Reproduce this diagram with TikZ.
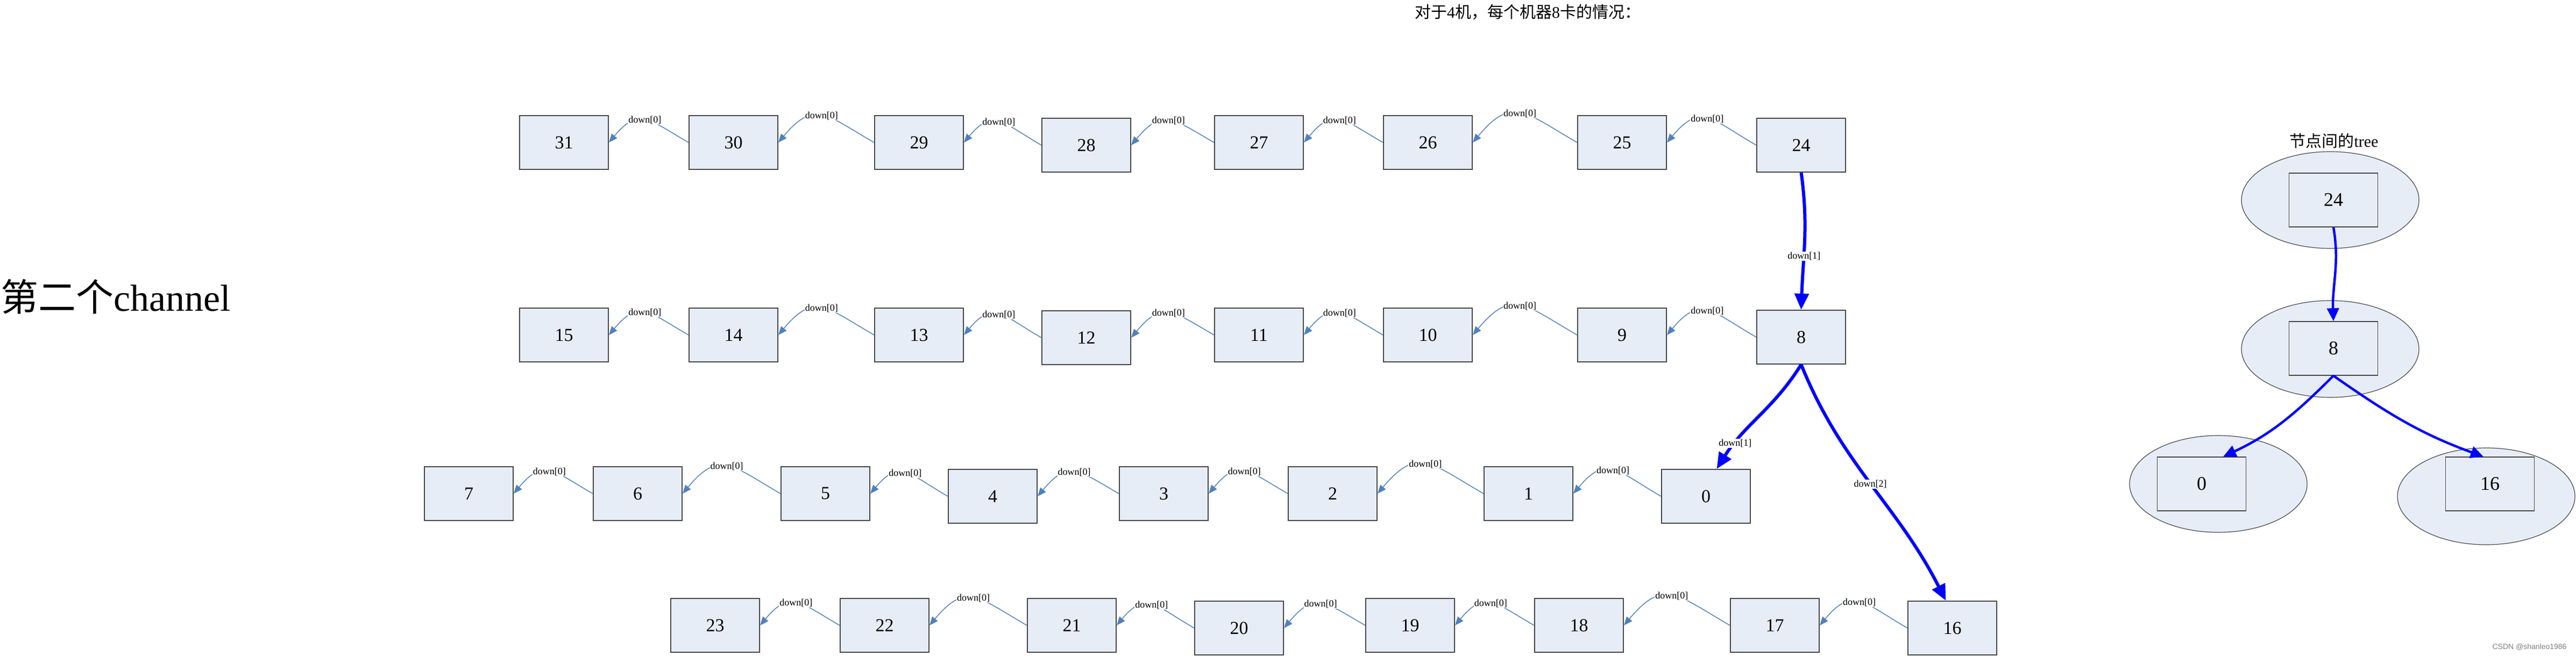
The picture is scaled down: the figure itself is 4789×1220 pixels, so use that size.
\documentclass[tikz,border=0pt]{standalone}
\usepackage{fontspec}
\usetikzlibrary{arrows.meta,shapes.geometric}
\setmainfont{Liberation Serif}
\setsansfont{Liberation Sans}
\newfontfamily\cjk{Noto Sans CJK SC}
\definecolor{boxfill}{RGB}{230,237,247}
\definecolor{thinblue}{RGB}{79,129,189}
\definecolor{edgegray}{RGB}{70,70,70}
\tikzset{
  gpu/.style={draw=edgegray,line width=2pt,fill=boxfill,anchor=north west,minimum width=165pt,minimum height=100pt,inner sep=0pt,font=\fontsize{34}{40}\selectfont},
  tbox/.style={draw=edgegray,line width=1.5pt,fill=boxfill,minimum width=165pt,minimum height=100pt,inner sep=0pt,font=\fontsize{36}{40}\selectfont},
  ell/.style={draw=edgegray,line width=1.2pt,fill=boxfill,ellipse,minimum width=330pt,minimum height=180pt},
  ring/.style={draw=thinblue,line width=1.5pt,-{Triangle[length=16pt,width=13pt]},out=150,in=50,looseness=1.5},
  lbl/.style={fill=white,inner sep=1pt,font=\fontsize{18}{20}\selectfont},
  big/.style={draw=blue,line width=6pt,-{Triangle[length=30pt,width=26pt]}},
  bigt/.style={draw=blue,line width=4.5pt,-{Triangle[length=24pt,width=22pt]}},
}
\begin{document}
\begin{tikzpicture}[x=1pt,y=-1pt]
\useasboundingbox (0,0) rectangle (4789,1220);
\node (title) at (2840,22) {\fontsize{30}{34}\selectfont\cjk 对于\rmfamily 4\cjk 机，每个机器\rmfamily 8\cjk 卡的情况：};
\node (chan) at (215,552) {\fontsize{70}{80}\selectfont{\cjk 第二个}channel};
\foreach \n/\x/\y in {31/965/214,30/1280/214,29/1625/214,28/1936/219,27/2257/214,26/2571/214,25/2932/214,24/3265/219,
  15/965/572,14/1280/572,13/1625/572,12/1936/577,11/2257/572,10/2571/572,9/2932/572,8/3265/576,
  7/788/867,6/1102/867,5/1451/867,4/1762/872,3/2080/867,2/2394/867,1/2758/867,0/3088/872,
  23/1246/1112,22/1561/1112,21/1909/1112,20/2220/1117,19/2538/1112,18/2852/1112,17/3216/1112,16/3546/1117}
  \node[gpu] (n\n) at (\x,\y) {\n};
\foreach \a in {31,30,29,28,27,26,25,15,14,13,12,11,10,9,7,6,5,4,3,2,1,23,22,21,20,19,18,17}{
  \pgfmathtruncatemacro\b{\a-1}
  \draw[ring] (n\b.west) to node[lbl]{down[0]} (n\a.east);
}
\draw[big] (n24.south) to[out=-82,in=88] node[lbl,pos=0.62]{down[1]} (n8.north);
\draw[big] (n8.south) to[out=-122,in=58] node[lbl,pos=0.78]{down[1]} ([xshift=20pt]n0.north);
\draw[big] (n8.south) to[out=-68,in=117] node[lbl,pos=0.5]{down[2]} ([xshift=-12pt]n16.north);
\node (tt) at (4339,262) {\fontsize{30}{34}\selectfont{\cjk 节点间的}tree};
\node[ell] (e24) at (4332,372) {};
\node[ell] (e8) at (4332,649) {};
\node[ell] (e0) at (4124,900) {};
\node[ell] (e16) at (4622,923) {};
\node[tbox] (t24) at (4338,372) {24};
\node[tbox] (t8) at (4338,648) {8};
\node[tbox] (t0) at (4093,900) {0};
\node[tbox] (t16) at (4629,900) {16};
\draw[bigt] (t24.south) to[out=-80,in=92] (t8.north);
\draw[bigt] (t8.south) to[out=-135,in=25] ([xshift=40pt]t0.north);
\draw[bigt] (t8.south) to[out=-35,in=160] ([xshift=-12pt]t16.north);
\node[text=gray,font=\sffamily\fontsize{14}{16}\selectfont,anchor=east] (wm) at (4775,1203) {CSDN @shanleo1986};
\end{tikzpicture}
\end{document}
